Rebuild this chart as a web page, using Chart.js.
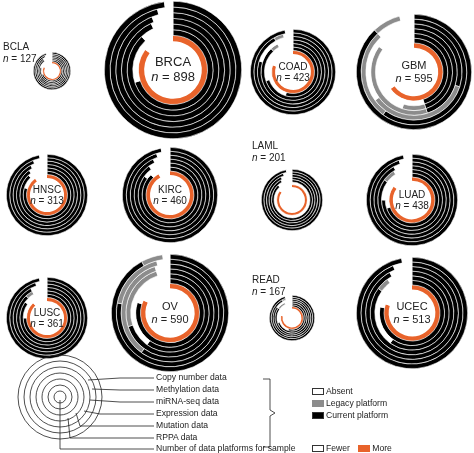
<!DOCTYPE html>
<html><head><meta charset="utf-8">
<script src="https://cdn.jsdelivr.net/npm/chart.js@4"></script>
<style>
body{margin:0;width:474px;height:453px;background:#fff;font-family:"Liberation Sans",Arial,sans-serif;position:relative;overflow:hidden}
canvas{position:absolute}
.lab{position:absolute;font-size:11px;color:#222;line-height:1.15;text-align:center;white-space:nowrap}
.out{text-align:left}
.lg{position:absolute;font-size:8.6px;color:#222;white-space:nowrap}
.sw{display:inline-block;width:10px;height:5px;border:1px solid #333;margin-right:2px;vertical-align:middle}
</style></head><body>
<script>
// Cancer types and sample counts
const cancers = ['BCLA','BRCA','COAD','GBM','HNSC','KIRC','LAML','LUAD','LUSC','OV','READ','UCEC'];
const sampleCounts = [127,898,423,595,313,460,201,438,361,590,167,513];
// Each ring: [current %, legacy %, absent %] per cancer (outer to inner)
const copyNumber = [[95,0,5],[98,0,2],[97,0,3],[88,8,4],[97,0,3],[97,0,3],[97,0,3],[97,0,3],[97,0,3],[92,6,2],[95,0,5],[97,0,3]];
const methylation = [[93,0,7],[96,0,4],[92,4,4],[60,28,12],[94,0,6],[95,0,5],[95,0,5],[95,0,5],[95,0,5],[78,18,4],[92,3,5],[94,0,6]];
const mirnaSeq = [[90,0,10],[94,0,6],[80,0,20],[30,35,35],[92,0,8],[93,0,7],[93,0,7],[92,0,8],[92,0,8],[60,35,5],[85,0,15],[92,0,8]];
const expression = [[90,0,10],[93,0,7],[88,4,8],[45,40,15],[90,0,10],[90,0,10],[92,0,8],[85,6,9],[88,4,8],[70,25,5],[85,8,7],[85,5,10]];
const mutation = [[80,0,20],[88,0,12],[70,0,30],[45,10,45],[88,0,12],[85,0,15],[88,0,12],[75,0,25],[85,0,15],[60,0,40],[70,0,30],[60,0,40]];
const rppa = [[70,0,30],[70,0,30],[55,0,45],[45,0,55],[80,0,20],[88,0,12],[0,0,100],[70,0,30],[75,0,25],[80,0,20],[55,0,45],[78,0,22]];
// Number of data platforms: [more %, fewer %]
const platforms = [[82,18],[85,15],[80,20],[65,35],[90,10],[92,8],[85,15],[85,15],[88,12],[82,18],[78,22],[80,20]];

// layout: center x, y, outer radius
const layout = [[52,71,18],[173,70,68],[293,72,42],[414,72,57],[47,195,40],[170,195,47],[292,200,30],[412,200,45],[47,318,40],[170,313,58],[292,318,22],[412,313,55]];
const labelOut = {BCLA:[3,41],LAML:[252,140],READ:[252,274]};

const rings = [copyNumber,methylation,mirnaSeq,expression,mutation,rppa];
const statusColors = ['#000000','#8c8c8c','#ffffff'];

cancers.forEach((c,i)=>{
  const [cx,cy,r] = layout[i];
  const cv = document.createElement('canvas');
  const s = 2*r+4;
  cv.width = s; cv.height = s;
  cv.style.left = (cx-s/2)+'px'; cv.style.top = (cy-s/2)+'px';
  cv.style.width = s+'px'; cv.style.height = s+'px';
  document.body.appendChild(cv);
  const datasets = rings.map(rg=>({data:rg[i],backgroundColor:statusColors,borderColor:'#ffffff',borderWidth:0.6}));
  datasets.push({data:platforms[i],backgroundColor:['#e8632b','#ffffff'],borderColor:'#ffffff',borderWidth:0});
  new Chart(cv,{type:'doughnut',data:{labels:['Current','Legacy','Absent'],datasets},
    options:{responsive:false,animation:false,cutout:'42%',layout:{padding:1},
      plugins:{legend:{display:false},tooltip:{enabled:false}}}});
  const d = document.createElement('div');
  d.className='lab';
  d.innerHTML = c+'<br><i>n</i> = '+sampleCounts[i];
  if(labelOut[c]){d.classList.add('out');d.style.left=labelOut[c][0]+'px';d.style.top=labelOut[c][1]+'px';d.style.fontSize='10px';}
  else{
    const fs = r>60?13:(r>50?11:10);
    d.style.fontSize=fs+'px';
    d.style.left=(cx-30)+'px';d.style.width='60px';d.style.top=(cy-fs*1.15)+'px';}
  document.body.appendChild(d);
});
</script>
<svg style="position:absolute;left:0;top:0" width="474" height="453">
  <g fill="none" stroke="#222" stroke-width="0.8">
    <circle cx="60" cy="397" r="42"/><circle cx="60" cy="397" r="36"/><circle cx="60" cy="397" r="30"/>
    <circle cx="60" cy="397" r="24"/><circle cx="60" cy="397" r="18"/><circle cx="60" cy="397" r="12"/><circle cx="60" cy="397" r="6"/>
    <polyline points="154,378 120,378 88,380"/>
    <polyline points="154,390 120,390 92,389"/>
    <polyline points="154,402 120,402 90,400"/>
    <polyline points="154,414 100,414 84,411"/>
    <polyline points="154,426 80,426 76,413"/>
    <polyline points="154,438 70,438 68,418"/>
    <polyline points="154,449 60,449 60,400"/>
    <path d="M263,379 L270,379 L270,410 L275,413 L270,416 L270,447 L263,447"/>
  </g>
</svg>
<div class="lg" style="left:156px;top:372px">Copy number data</div>
<div class="lg" style="left:156px;top:384px">Methylation data</div>
<div class="lg" style="left:156px;top:396px">miRNA-seq data</div>
<div class="lg" style="left:156px;top:408px">Expression data</div>
<div class="lg" style="left:156px;top:420px">Mutation data</div>
<div class="lg" style="left:156px;top:432px">RPPA data</div>
<div class="lg" style="left:156px;top:443px">Number of data platforms for sample</div>
<div class="lg" style="left:312px;top:386px"><span class="sw" style="background:#fff"></span>Absent</div>
<div class="lg" style="left:312px;top:398px"><span class="sw" style="background:#8c8c8c;border-color:#8c8c8c"></span>Legacy platform</div>
<div class="lg" style="left:312px;top:410px"><span class="sw" style="background:#000"></span>Current platform</div>
<div class="lg" style="left:312px;top:443px"><span class="sw" style="background:#fff"></span>Fewer <span class="sw" style="background:#e8632b;border-color:#e8632b;margin-left:6px"></span>More</div>
</body></html>
